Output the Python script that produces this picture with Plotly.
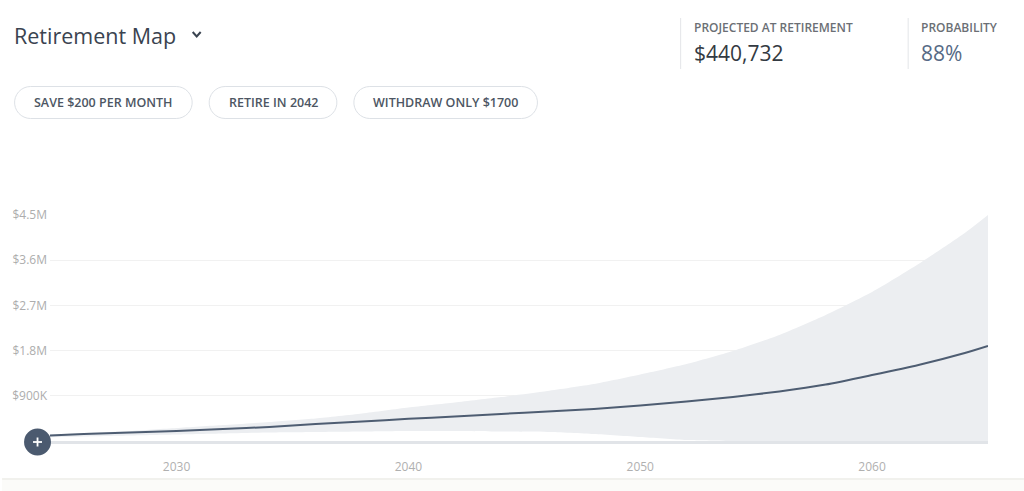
import plotly.graph_objects as go
import numpy as np

# ---------------- data ----------------
years = [2024, 2026, 2028, 2030, 2032, 2034, 2036, 2038, 2040, 2042, 2044,
         2046, 2048, 2050, 2052, 2054, 2056, 2058, 2060, 2062, 2064, 2065]
median = [100000, 139000, 169000, 199000, 239000, 279000, 339000, 388000, 440732,
          488000, 538000, 587000, 637000, 707000, 786000, 876000, 986000,
          1125000, 1314000, 1513000, 1752000, 1892000]
upper = [119000, 159000, 199000, 259000, 319000, 378000, 448000, 548000, 667000,
         767000, 876000, 996000, 1135000, 1324000, 1533000, 1792000, 2111000,
         2509000, 2967000, 3524000, 4142000, 4500000]
lower = [70000, 90000, 110000, 130000, 150000, 170000, 180000, 190000, 200000,
         200000, 190000, 180000, 140000, 80000, 20000, 0, 0, 0, 0, 0, 0, 0]

y_tickvals = [900000, 1800000, 2700000, 3600000, 4500000]
y_ticktext = ["$900K", "$1.8M", "$2.7M", "$3.6M", "$4.5M"]
x_tickvals = [2030, 2040, 2050, 2060]
x_ticktext = ["2030", "2040", "2050", "2060"]

title_text = "Retirement Map"
buttons = ["SAVE $200 PER MONTH", "RETIRE IN 2042", "WITHDRAW ONLY $1700"]
stat_labels = ["PROJECTED AT RETIREMENT", "PROBABILITY"]
stat_values = ["$440,732", "88%"]

# ---------------- layout geometry (pixels) ----------------
W, H = 1024, 491
L, R, T, B = 48, 36, 215, 50
PW, PH = W - L - R, H - T - B
FONT = "Open Sans"
PAD = 3  # annotation inner padding


def px(x):
    return (x - L) / PW


def py(y):
    return (H - B - y) / PH


fig = go.Figure()

# band
fig.add_trace(go.Scatter(x=years, y=lower, mode="lines",
                         line=dict(width=0, shape="spline", smoothing=0.6),
                         hoverinfo="skip", showlegend=False))
fig.add_trace(go.Scatter(x=years, y=upper, mode="lines",
                         line=dict(width=0, shape="spline", smoothing=0.6),
                         fill="tonexty", fillcolor="#eceef1",
                         hoverinfo="skip", showlegend=False))
# median line
fig.add_trace(go.Scatter(x=years, y=median, mode="lines",
                         line=dict(color="#4e5d72", width=2, shape="spline", smoothing=0.6),
                         showlegend=False))

shapes = []
annotations = []

# plus button (decorative, at the chart origin)
cx, cy, rr = 35.5, 442, 13.5
shapes.append(dict(type="circle", xref="paper", yref="paper",
                   x0=px(cx - rr), x1=px(cx + rr), y0=py(cy + rr), y1=py(cy - rr),
                   fillcolor="#4b5a6f", line=dict(width=0), layer="above"))
shapes.append(dict(type="line", xref="paper", yref="paper",
                   x0=px(cx - 4.5), x1=px(cx + 4.5), y0=py(cy), y1=py(cy),
                   line=dict(color="white", width=1.8)))
shapes.append(dict(type="line", xref="paper", yref="paper",
                   x0=px(cx), x1=px(cx), y0=py(cy - 4.5), y1=py(cy + 4.5),
                   line=dict(color="white", width=1.8)))

# title + chevron
annotations.append(dict(x=px(13 - PAD), y=py(35), xref="paper", yref="paper",
                        text=title_text, showarrow=False, xanchor="left", yanchor="middle",
                        font=dict(family=FONT, size=21.5, color="#3a4350")))
shapes.append(dict(type="path", xref="paper", yref="paper",
                   path=f"M {px(191)} {py(32)} L {px(195)} {py(36.5)} L {px(199)} {py(32)}",
                   line=dict(color="#3a4350", width=2)))


def pill(x0, x1, y0, y1, n=16):
    r = (y1 - y0) / 2
    cyy = (y0 + y1) / 2
    pts = []
    for a in np.linspace(-np.pi / 2, np.pi / 2, n):
        pts.append((x1 - r + r * np.cos(a), cyy + r * np.sin(a)))
    for a in np.linspace(np.pi / 2, 3 * np.pi / 2, n):
        pts.append((x0 + r + r * np.cos(a), cyy + r * np.sin(a)))
    return "M " + " L ".join(f"{px(a)} {py(b)}" for a, b in pts) + " Z"


btn_x = [(12.5, 190.5), (207.5, 335.5), (352.5, 536.5)]
for (x0, x1), label in zip(btn_x, buttons):
    shapes.append(dict(type="path", xref="paper", yref="paper", path=pill(x0, x1, 86.5, 118.5),
                       line=dict(color="#dde1e6", width=1), fillcolor="white"))
    annotations.append(dict(x=px((x0 + x1) / 2), y=py(102), xref="paper", yref="paper",
                            text=label, showarrow=False, xanchor="center", yanchor="middle",
                            font=dict(family=FONT, size=12.5, color="#4d5663", weight=600)))

# stats header
for xdiv, xt, lab, val, vcol in [(680, 694, stat_labels[0], stat_values[0], "#333a42"),
                                 (908, 922, stat_labels[1], stat_values[1], "#566a85")]:
    shapes.append(dict(type="line", xref="paper", yref="paper",
                       x0=px(xdiv), x1=px(xdiv), y0=py(18), y1=py(69),
                       line=dict(color="#e3e5e8", width=1)))
    annotations.append(dict(x=px(xt - PAD), y=py(27), xref="paper", yref="paper", text=lab,
                            showarrow=False, xanchor="left", yanchor="middle",
                            font=dict(family=FONT, size=12, color="#6b6f75", weight=600)))
    annotations.append(dict(x=px(xt - PAD), y=py(53), xref="paper", yref="paper", text=val,
                            showarrow=False, xanchor="left", yanchor="middle",
                            font=dict(family=FONT, size=21, color=vcol)))

# bottom separator
shapes.append(dict(type="rect", xref="paper", yref="paper", x0=px(0), x1=px(W),
                   y0=py(491), y1=py(479), line=dict(width=0), fillcolor="#fbfbf9",
                   layer="below"))
shapes.append(dict(type="line", xref="paper", yref="paper", x0=px(0), x1=px(W),
                   y0=py(479), y1=py(479), line=dict(color="#f1f1ed", width=2)))

fig.update_layout(
    width=W, height=H,
    margin=dict(l=L, r=R, t=T, b=B, pad=0),
    paper_bgcolor="white", plot_bgcolor="white",
    font=dict(family=FONT),
    shapes=shapes, annotations=annotations,
    showlegend=False,
    xaxis=dict(range=[2024.54, 2065], tickvals=x_tickvals, ticktext=x_ticktext,
               showgrid=False, zeroline=False, showline=True, linecolor="#e1e4e8", linewidth=3,
               ticks="outside", ticklen=13, tickcolor="rgba(0,0,0,0)",
               tickfont=dict(family=FONT, size=12, color="#b0b0b0"), fixedrange=True),
    yaxis=dict(range=[0, 4500000], tickvals=y_tickvals, ticktext=y_ticktext,
               showgrid=True, gridcolor="#f1f1f1", gridwidth=1, zeroline=False,
               showline=False, ticks="", ticklabelstandoff=2,
               tickfont=dict(family=FONT, size=12, color="#adadad"), fixedrange=True),
)

fig.write_html("out.html")
